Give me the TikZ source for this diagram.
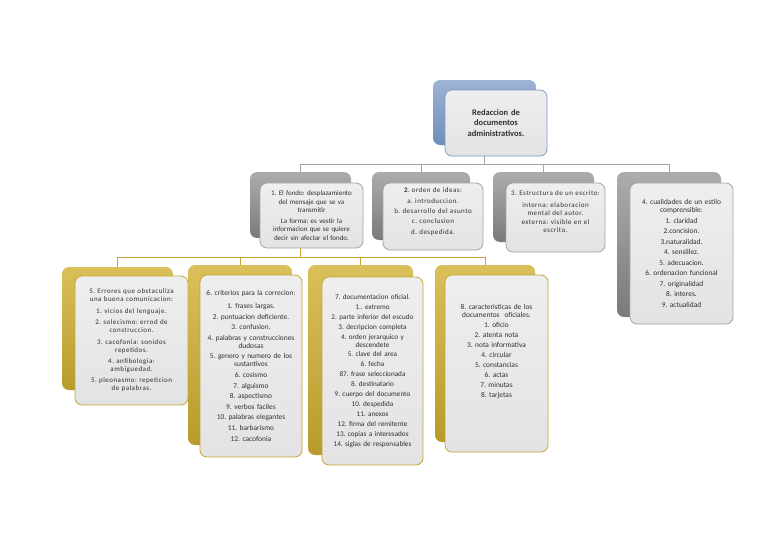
\documentclass[tikz,border=0pt]{standalone}
\usepackage{fontspec}
\setmainfont{Carlito}
\newfontfamily\spacedfont[LetterSpace=7]{Carlito}
\usepackage{xcolor}
\pgfdeclarelayer{background}
\pgfsetlayers{background,main}
\frenchspacing

\definecolor{blueback}{HTML}{6F8DBB}
\definecolor{bluelight}{HTML}{9DB3D6}
\definecolor{blueline}{HTML}{7E9BC6}
\definecolor{grayback}{HTML}{7A7A7A}
\definecolor{graylight}{HTML}{ACACAC}
\definecolor{grayline}{HTML}{A4A4A4}
\definecolor{goldback}{HTML}{B89B2C}
\definecolor{goldlight}{HTML}{D9C05A}
\definecolor{goldline}{HTML}{C9A530}
\definecolor{frontfill}{HTML}{E3E3E5}
\definecolor{inktext}{HTML}{303030}

\tikzset{
  back/.style={rectangle, rounded corners=7pt, draw=none},
  blueback/.style={back, top color=bluelight, bottom color=blueback},
  grayback/.style={back, top color=graylight, bottom color=grayback},
  goldback/.style={back, top color=goldlight, bottom color=goldback},
  front/.style={rectangle, rounded corners=7pt, line width=0.8pt,
    top color=frontfill!60!white, bottom color=frontfill,
    align=center, inner sep=3pt, text=inktext,
    font=\fontsize{7.4}{8}\selectfont},
  bluefront/.style={front, draw=blueline},
  grayfront/.style={front, draw=grayline},
  goldfront/.style={front, draw=goldline},
  graylink/.style={draw=grayline, line width=0.7pt},
  goldlink/.style={draw=goldline, line width=0.8pt},
}

\begin{document}
\begin{tikzpicture}[x=1pt,y=-1pt]

\begin{pgfonlayer}{background}
\fill [white] (0,0) rectangle (768,543);
\end{pgfonlayer}
\useasboundingbox (0,0) rectangle (768,543);

%title box
\node [blueback, minimum width=103pt, minimum height=65pt] (title-b) at (484.5,112.5) {};
\node [bluefront, minimum width=102pt, minimum height=66pt, text width=96pt,
  font=\fontsize{8.5}{10.5}\selectfont\bfseries] (title) at (496,123)
  {Redaccion de\\documentos\\administrativos.};

%first row
\node [grayback, minimum width=101pt, minimum height=66pt] (fondo-b) at (300.5,205) {};
\node [grayfront, minimum width=103pt, minimum height=65pt, text width=97pt,
  font=\fontsize{7}{8.3}\selectfont] (fondo) at (311.5,215.5)
  {1. El fondo: desplazamiento\\del mensaje que se va\\transmitir\\[2.7pt]
   La forma: es vestir la\\informacion que se quiere\\decir sin afectar el fondo.};

\node [grayback, minimum width=98pt, minimum height=68pt] (orden-b) at (421,206) {};
\node [grayfront, minimum width=100pt, minimum height=67pt, text width=94pt,
  font=\fontsize{7}{8}\spacedfont] (orden) at (433,216.5)
  {\textbf{2}. orden de ideas:\\[2.3pt] a. introduccion.\\[2.3pt] b. desarrollo del asunto\\[2.3pt]
   c. conclusion\\[2.3pt] d. despedida.\\[3pt]\mbox{}};

\node [grayback, minimum width=101pt, minimum height=70pt] (estructura-b) at (543.5,207) {};
\node [grayfront, minimum width=99pt, minimum height=69pt, text width=95pt, inner sep=2pt,
  font=\fontsize{7}{8}\spacedfont] (estructura) at (555.5,217.5)
  {3. Estructura de un escrito:\\[3.5pt] interna: elaboracion\\mental del autor.\\[1.5pt]
   externa: visible en el\\escrito.\\[3pt]\mbox{}};

\node [grayback, minimum width=104pt, minimum height=145pt] (cualidades-b) at (669,244.5) {};
\node [grayfront, minimum width=103pt, minimum height=141pt, text width=97pt] (cualidades) at (681.5,253.5)
  {4. cualidades de un estilo\\comprensible:\\[2.5pt] 1. claridad\\[2.5pt] 2.concision.\\[2.5pt]
   3.naturalidad.\\[2.5pt] 4. sensillez.\\[2.5pt] 5. adecuacion.\\[2.5pt] 6. ordenacion funcional\\[2.5pt]
   7. originalidad\\[2.5pt] 8. interes.\\[2.5pt] 9. actualidad};

%second row
\node [goldback, minimum width=111pt, minimum height=123pt] (errores-b) at (117.5,328.5) {};
\node [goldfront, minimum width=113pt, minimum height=129pt, text width=107pt,
  font=\fontsize{7}{8}\spacedfont] (errores) at (131.5,340.5)
  {5. Errores que obstaculiza\\una buena comunicacion:\\[3.4pt] 1. vicios del lenguaje.\\[3.4pt]
   2. solecismo: errod de\\construccion.\\[3.4pt] 3. cacofonia: sonidos\\repetidos.\\[3.4pt]
   4. anfibologia:\\ambiguedad.\\[3.4pt] 5. pleonasmo: repeticion\\de palabras.};

\node [goldback, minimum width=104pt, minimum height=180pt] (criterios-b) at (240,355) {};
\node [goldfront, minimum width=102pt, minimum height=182pt, text width=98pt, inner sep=2pt] (criterios) at (251,366)
  {6. criterios para la correcion:\\[4.5pt] 1. frases largas.\\[2.6pt] 2. puntuacion deficiente.\\[2.6pt]
   3. confusion.\\[2.6pt] 4. palabras y construcciones\\dudosas\\[2.6pt] 5. genero y numero de los\\sustantivos\\[2.6pt]
   6. cosismo\\[2.6pt] 7. alguismo\\[2.6pt] 8. aspectismo\\[2.6pt] 9. verbos faciles\\[2.6pt]
   10. palabras elegantes\\[2.6pt] 11. barbarismo\\[2.6pt] 12. cacofonia};

\node [goldback, minimum width=105pt, minimum height=190pt] (oficial-b) at (360.5,360) {};
\node [goldfront, minimum width=101pt, minimum height=188pt, text width=95pt,
  font=\fontsize{7.2}{7.8}\selectfont] (oficial) at (372.5,371)
  {7. documentacion oficial.\\[2.1pt] 1.. extremo\\[2.1pt] 2. parte inferior del escudo\\[2.1pt]
   3. decripcion completa\\[2.1pt] 4. orden jerarquico y\\descendete\\[2.1pt] 5. clave del area\\[2.1pt]
   6. fecha\\[2.1pt] 87. frase seleccionada\\[2.1pt] 8. destinatario\\[2.1pt] 9. cuerpo del documento\\[2.1pt]
   10. despedida\\[2.1pt] 11. anexos\\[2.1pt] 12. firma del remitente\\[2.1pt]
   13. copias a interesados\\[2.1pt] 14. siglas de responsables};

\node [goldback, minimum width=100pt, minimum height=177pt] (caracteristicas-b) at (485,353.5) {};
\node [goldfront, minimum width=103pt, minimum height=177pt, text width=97pt] (caracteristicas) at (496.5,363.5)
  {8. caracteristicas de los\\documentos~ oficiales.\\[2pt] 1. oficio\\[2pt] 2. atenta nota\\[2pt]
   3. nota informativa\\[2pt] 4. circular\\[2pt] 5. constancias\\[2pt] 6. actas\\[2pt]
   7. minutas\\[2pt] 8. tarjetas\\[18pt]\mbox{}};

%connectors
\begin{pgfonlayer}{background}
\foreach \child in {fondo,orden,estructura,cualidades}
  \draw [graylink] (title-b.south) -- ++(0,19) -| (\child-b.north);
\foreach \child in {errores,criterios,oficial,caracteristicas}
  \draw [goldlink] (fondo-b.south) -- ++(0,19) -| (\child-b.north);
\end{pgfonlayer}

\end{tikzpicture}
\end{document}
